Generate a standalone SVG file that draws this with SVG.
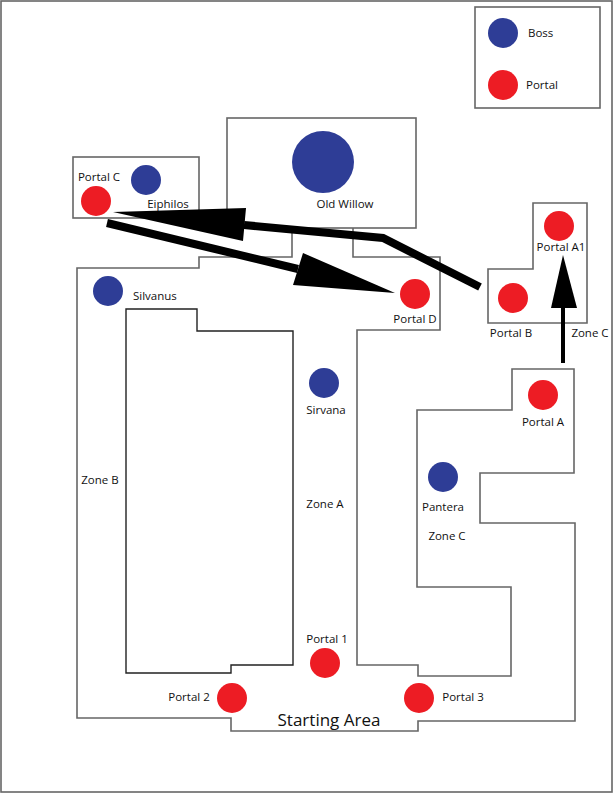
<svg xmlns="http://www.w3.org/2000/svg" width="614" height="794" viewBox="0 0 614 794">
<style>
.w{fill:none;stroke:#666;stroke-width:1.6}
.b{fill:none;stroke:#222;stroke-width:1.4}
.boss{fill:#2e3d96}
.portal{fill:#ed1c24}
text{font-family:"Open Sans","Liberation Sans",sans-serif;font-size:11.5px;fill:#111}
.c{text-anchor:middle}
</style>
<rect width="614" height="794" fill="#fff"/>
<g id="frame"><rect x="1" y="1" width="611" height="791" class="w"/></g>
<g id="legend"><rect x="475" y="7" width="125" height="101" class="w"/>
<circle cx="503" cy="33" r="15" class="boss"/><text x="528" y="37">Boss</text>
<circle cx="503" cy="85" r="15" class="portal"/><text x="526" y="89">Portal</text></g>
<g id="walls">
<rect x="227" y="118" width="189" height="110" class="w"/>
<rect x="73" y="157" width="126" height="61" class="w"/>
<path class="w" d="M292,228 V257 H199 V268 H77 V718 H231 V731 H418 V721 H575 V523 H480 V473 H574 V369 H512 V410 H417 V587 H511 V676 H418 V665 H357 V330 H440 V257 H353 V228"/>
<path class="b" d="M126,309 H197 V331 H293 V665 H231 V673 H126 Z"/>
<path class="w" d="M533,203 V269 H488 V323 H587 V203 Z"/>
</g>
<g id="old-willow"><circle cx="323" cy="162" r="31" class="boss"/><text x="345" y="208" class="c">Old Willow</text></g>
<g id="eiphilos"><circle cx="146" cy="180" r="15" class="boss"/><text x="168" y="208" class="c">Eiphilos</text></g>
<g id="portal-c"><circle cx="96" cy="201" r="15" class="portal"/><text x="99" y="181" class="c">Portal C</text></g>
<g id="silvanus"><circle cx="108" cy="291" r="15" class="boss"/><text x="133" y="300">Silvanus</text></g>
<g id="portal-d"><circle cx="415" cy="294" r="15" class="portal"/><text x="415" y="323" class="c">Portal D</text></g>
<g id="sirvana"><circle cx="324" cy="383" r="15" class="boss"/><text x="326" y="414" class="c">Sirvana</text></g>
<g id="portal-a1"><circle cx="559" cy="226" r="15" class="portal"/><text x="561" y="251" class="c">Portal A1</text></g>
<g id="portal-b"><circle cx="513" cy="298" r="15" class="portal"/><text x="511" y="337" class="c">Portal B</text></g>
<g id="zone-c-top"><text x="590" y="337" class="c">Zone C</text></g>
<g id="portal-a"><circle cx="543" cy="395" r="15" class="portal"/><text x="543" y="426" class="c">Portal A</text></g>
<g id="pantera"><circle cx="443" cy="477" r="15" class="boss"/><text x="443" y="511" class="c">Pantera</text></g>
<g id="zone-c"><text x="447" y="540" class="c">Zone C</text></g>
<g id="zone-a"><text x="325" y="508" class="c">Zone A</text></g>
<g id="zone-b"><text x="100" y="484" class="c">Zone B</text></g>
<g id="portal-1"><circle cx="325" cy="663" r="15" class="portal"/><text x="327" y="643" class="c">Portal 1</text></g>
<g id="portal-2"><circle cx="232" cy="698" r="15" class="portal"/><text x="189" y="701" class="c">Portal 2</text></g>
<g id="portal-3"><circle cx="419" cy="698" r="15" class="portal"/><text x="463" y="701" class="c">Portal 3</text></g>
<g id="starting-area"><text x="329" y="726" class="c" style="font-size:17px">Starting Area</text></g>
<g id="connectors">
<path d="M107,223 L298,269" stroke="#000" stroke-width="8" fill="none"/>
<polygon points="395,293 303,253 293,285"/>
<path d="M480,287 L383,238 L244,225" stroke="#000" stroke-width="8" fill="none"/>
<polygon points="113,212 246,208 243,241"/>
<path d="M563,363 V305" stroke="#000" stroke-width="4"/>
<polygon points="563,255 551,308 577,308"/>
</g>
</svg>
